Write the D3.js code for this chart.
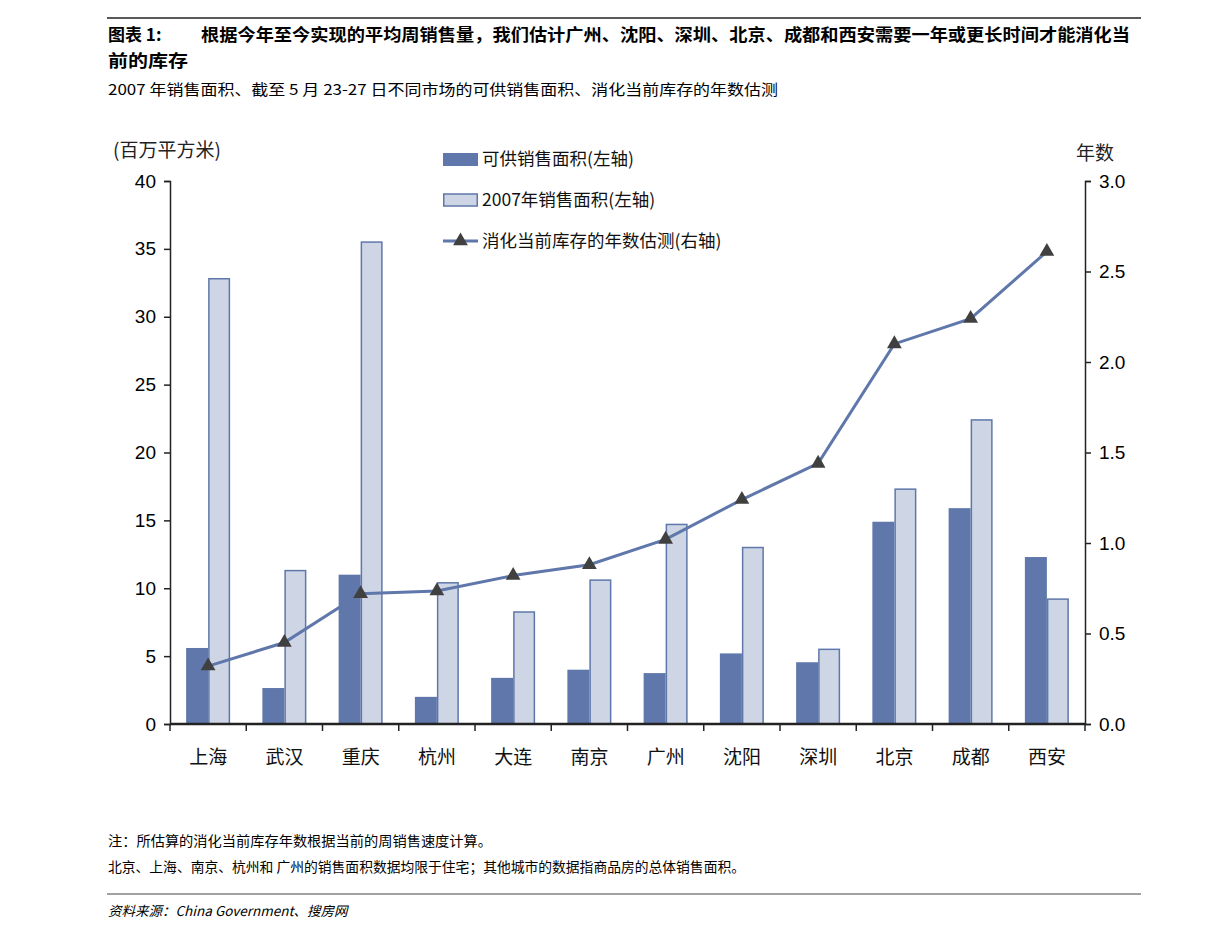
<!DOCTYPE html>
<html><head><meta charset="utf-8">
<script src="https://cdn.jsdelivr.net/npm/d3@7"></script>
<style>body{margin:0;background:#fff}svg{display:block}</style>
</head><body>
<script>
const categories = ["上海","武汉","重庆","杭州","大连","南京","广州","沈阳","深圳","北京","成都","西安"];
const supplyArea = [5.6,2.65,11.0,2.0,3.4,4.0,3.75,5.2,4.55,14.9,15.9,12.3];
const sales2007 = [32.8,11.3,35.5,10.4,8.25,10.6,14.7,13.0,5.5,17.3,22.4,9.2];
const yearsEst = [0.32,0.45,0.72,0.735,0.82,0.88,1.02,1.24,1.44,2.10,2.24,2.61];
const leftTicks = [0,5,10,15,20,25,30,35,40];
const rightTicks = [0,0.5,1.0,1.5,2.0,2.5,3.0];
const seriesNames = ["可供销售面积(左轴)","2007年销售面积(左轴)","消化当前库存的年数估测(右轴)"];

const W=1224,H=938;
const svg=d3.select("body").append("svg").attr("width",W).attr("height",H);
const cjk="'Noto Sans CJK SC','Noto Sans',sans-serif";
const arial="'Liberation Sans',Arial,sans-serif";
const dark="#5F77AA", light="#CED6E6", tri="#404040";

// rules
svg.append("line").attr("x1",107).attr("x2",1141).attr("y1",18).attr("y2",18).attr("stroke","#222").attr("stroke-width",1.5);
svg.append("line").attr("x1",107).attr("x2",1141).attr("y1",894).attr("y2",894).attr("stroke","#444").attr("stroke-width",1.2);

// title
svg.append("text").attr("x",108).attr("y",41).attr("font-family",cjk).attr("font-size",17).attr("font-weight","bold").text("图表 1:");
svg.append("text").attr("x",201).attr("y",41).attr("font-family",cjk).attr("font-size",17).attr("font-weight","bold")
  .attr("textLength",929).attr("lengthAdjust","spacingAndGlyphs")
  .text("根据今年至今实现的平均周销售量，我们估计广州、沈阳、深圳、北京、成都和西安需要一年或更长时间才能消化当");
svg.append("text").attr("x",108).attr("y",67).attr("font-family",cjk).attr("font-size",17).attr("font-weight","bold")
  .attr("textLength",80).attr("lengthAdjust","spacingAndGlyphs").text("前的库存");
svg.append("text").attr("x",108).attr("y",95).attr("font-family",cjk).attr("font-size",15)
  .attr("textLength",670).attr("lengthAdjust","spacingAndGlyphs")
  .text("2007 年销售面积、截至 5 月 23-27 日不同市场的可供销售面积、消化当前库存的年数估测");

const L=170,R=1085,T=181,B=724;
const x=d3.scaleBand().domain(categories).range([L,R]);
const yL=d3.scaleLinear().domain([0,40]).range([B,T]);
const yR=d3.scaleLinear().domain([0,3]).range([B,T]);
const bw=22, inner=x.bandwidth();

const g=svg.append("g");
// bars
g.selectAll(".d").data(categories).enter().append("rect")
  .attr("x",d=>x(d)+inner/2-bw).attr("width",bw)
  .attr("y",(d,i)=>yL(supplyArea[i])).attr("height",(d,i)=>B-yL(supplyArea[i]))
  .attr("fill",dark);
g.selectAll(".l").data(categories).enter().append("rect")
  .attr("x",d=>x(d)+inner/2+0.75).attr("width",bw-1.5)
  .attr("y",(d,i)=>yL(sales2007[i])).attr("height",(d,i)=>B-yL(sales2007[i]))
  .attr("fill",light).attr("stroke",dark).attr("stroke-width",1.5);

// axes
const la=svg.append("g").attr("transform",`translate(${L},0)`).call(d3.axisLeft(yL).tickValues(leftTicks).tickSize(6).tickPadding(8).tickFormat(d3.format("d")));
const ra=svg.append("g").attr("transform",`translate(${R},0)`).call(d3.axisRight(yR).tickValues(rightTicks).tickSize(6).tickPadding(8).tickFormat(d3.format(".1f")));
[la,ra].forEach(a=>{a.select(".domain").attr("stroke","#222").attr("stroke-width",1.5);
  a.selectAll(".tick line").attr("stroke","#222").attr("stroke-width",1.5);
  a.selectAll("text").attr("font-family",arial).attr("font-size",19).attr("fill","#000");});
const xa=svg.append("g").attr("transform",`translate(0,${B})`).call(d3.axisBottom(x).tickSize(0).tickPadding(27));
xa.select(".domain").remove();
xa.selectAll("text").attr("font-family",cjk).attr("font-size",19).attr("fill","#111");
svg.append("line").attr("x1",L).attr("x2",R).attr("y1",B).attr("y2",B).attr("stroke","#222").attr("stroke-width",2.5);
svg.selectAll(".bt").data(d3.range(categories.length+1)).enter().append("line")
  .attr("x1",i=>L+i*inner).attr("x2",i=>L+i*inner).attr("y1",B).attr("y2",B+7).attr("stroke","#222").attr("stroke-width",1.5);

// line
const line=d3.line().x((d,i)=>x(categories[i])+inner/2).y(d=>yR(d));
svg.append("path").datum(yearsEst).attr("d",line).attr("fill","none").attr("stroke",dark).attr("stroke-width",3);
const sym=d3.symbol().type(d3.symbolTriangle).size(95);
svg.selectAll(".tri").data(yearsEst).enter().append("path").attr("d",sym)
  .attr("transform",(d,i)=>`translate(${x(categories[i])+inner/2},${yR(d)})`).attr("fill",tri);

// axis titles
svg.append("text").attr("x",113).attr("y",157).attr("font-family",cjk).attr("font-size",19).attr("fill","#222").text("(百万平方米)");
svg.append("text").attr("x",1076).attr("y",160).attr("font-family",cjk).attr("font-size",19).attr("fill","#222").text("年数");

// legend
const lx=443, ly=[159,200,241];
svg.append("rect").attr("x",lx).attr("y",ly[0]-6).attr("width",35).attr("height",13).attr("fill",dark);
svg.append("rect").attr("x",lx+0.75).attr("y",ly[1]-6).attr("width",33.5).attr("height",12).attr("fill",light).attr("stroke",dark).attr("stroke-width",1.5);
svg.append("line").attr("x1",lx).attr("x2",lx+35).attr("y1",ly[2]).attr("y2",ly[2]).attr("stroke",dark).attr("stroke-width",3);
svg.append("path").attr("d",sym).attr("transform",`translate(${lx+17.5},${ly[2]})`).attr("fill",tri);
seriesNames.forEach((s,i)=>svg.append("text").attr("x",lx+39).attr("y",ly[i]+6).attr("font-family",cjk).attr("font-size",17.5).attr("fill","#111").text(s));

// notes
svg.append("text").attr("x",108).attr("y",846).attr("font-family",cjk).attr("font-size",13.5)
  .attr("textLength",384).attr("lengthAdjust","spacingAndGlyphs").text("注：所估算的消化当前库存年数根据当前的周销售速度计算。");
svg.append("text").attr("x",108).attr("y",872).attr("font-family",cjk).attr("font-size",13.5)
  .attr("textLength",637).attr("lengthAdjust","spacingAndGlyphs").text("北京、上海、南京、杭州和 广州的销售面积数据均限于住宅；其他城市的数据指商品房的总体销售面积。");
svg.append("text").attr("x",108).attr("y",916).attr("font-family",cjk).attr("font-size",13.5).attr("font-style","italic").text("资料来源：China Government、搜房网");
</script>
</body></html>
